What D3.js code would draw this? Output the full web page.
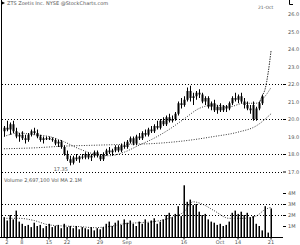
<!DOCTYPE html>
<html>
<head>
<meta charset="utf-8">
<script src="https://cdn.jsdelivr.net/npm/d3@7"></script>
<style>
body { margin: 0; background: #fff; }
svg { display: block; font-family: "DejaVu Sans", sans-serif; }
</style>
</head>
<body>
<div id="chart"></div>
<script>
// daily candles (price in $)
var opens = [19.3,19.5,19.4,19.7,19.3,19.0,19.1,18.9,18.8,19.1,
    19.3,19.2,19.0,18.8,18.9,18.9,18.85,18.8,18.6,18.7,
    18.4,18.0,17.7,17.5,17.8,17.7,17.85,17.8,18.0,17.8,
    17.9,18.1,17.9,17.7,18.0,18.2,18.1,18.2,18.4,18.2,
    18.5,18.4,18.7,18.9,18.6,19.0,18.9,19.2,19.1,19.4,
    19.3,19.6,19.5,19.9,19.7,20.1,19.9,20.0,20.3,20.9,
    20.8,21.1,21.6,21.2,21.3,21.5,21.4,21.0,21.2,20.7,
    20.9,20.5,20.7,20.5,20.7,20.6,20.9,21.2,21.1,21.3,
    21.0,20.8,20.6,20.8,20.0,20.6,20.9];
var highs = [19.6,19.9,19.8,19.9,19.5,19.2,19.3,19.1,19.2,19.4,
    19.5,19.4,19.1,19.0,19.0,19.0,18.95,18.9,18.8,18.8,
    18.5,18.2,17.9,17.9,18.0,17.9,18.0,18.1,18.1,18.0,
    18.2,18.2,18.0,18.1,18.3,18.4,18.3,18.5,18.5,18.6,
    18.7,18.8,19.0,19.0,19.1,19.2,19.3,19.4,19.5,19.6,
    19.7,19.9,20.0,20.1,20.2,20.3,20.2,20.4,21.0,21.2,
    21.3,21.8,21.9,21.5,21.6,21.7,21.5,21.3,21.3,21.0,
    21.1,20.8,20.9,20.8,20.8,21.0,21.3,21.5,21.4,21.5,
    21.2,21.0,20.8,21.0,20.7,21.0,21.4];
var lows = [19.0,19.3,19.1,19.2,18.9,18.7,18.8,18.6,18.7,19.0,
    19.1,18.9,18.7,18.6,18.8,18.8,18.7,18.5,18.4,18.3,
    17.9,17.6,17.35,17.4,17.6,17.5,17.7,17.7,17.7,17.6,
    17.8,17.8,17.6,17.6,17.9,18.0,17.9,18.1,18.1,18.1,
    18.3,18.3,18.6,18.5,18.5,18.8,18.8,19.0,19.0,19.2,
    19.2,19.4,19.4,19.6,19.6,19.8,19.8,19.9,20.2,20.6,
    20.7,21.0,21.0,20.8,21.1,21.2,20.9,20.8,20.6,20.5,
    20.4,20.3,20.4,20.4,20.4,20.5,20.8,21.0,20.9,20.9,
    20.6,20.5,20.3,19.9,19.9,20.5,20.8];
var closes = [19.5,19.4,19.7,19.3,19.0,19.1,18.9,18.8,19.1,19.3,
    19.2,19.0,18.8,18.9,18.9,18.85,18.8,18.6,18.7,18.4,
    18.0,17.7,17.5,17.8,17.7,17.85,17.8,18.0,17.8,17.9,
    18.1,17.9,17.7,18.0,18.2,18.1,18.2,18.4,18.2,18.5,
    18.4,18.7,18.9,18.6,19.0,18.9,19.2,19.1,19.4,19.3,
    19.6,19.5,19.9,19.7,20.1,19.9,20.0,20.3,20.9,20.8,
    21.1,21.6,21.2,21.3,21.5,21.4,21.0,21.2,20.7,20.9,
    20.5,20.7,20.5,20.7,20.6,20.9,21.2,21.1,21.3,21.0,
    20.8,20.6,20.5,20.0,20.6,20.9,21.3];

// volume in millions, one per day (last 3 days have no candle)
var volumes = [1.8,1.5,2.0,1.6,2.4,1.4,1.2,1.0,1.1,0.9,
    1.3,1.0,1.1,0.8,1.0,1.2,0.9,1.0,1.1,0.8,
    1.2,0.9,1.0,0.8,1.0,0.7,0.9,0.8,0.7,0.9,
    0.6,0.8,0.7,0.9,1.2,1.4,1.0,1.3,1.5,1.1,
    1.6,1.3,1.5,1.2,1.0,1.4,1.2,1.6,1.3,1.5,
    1.7,1.2,1.4,1.6,2.0,2.2,1.8,2.1,2.8,1.9,
    4.7,3.2,3.4,2.9,3.0,2.3,2.0,2.1,1.6,1.4,
    1.3,1.1,1.2,1.0,1.1,1.4,2.2,2.4,2.1,2.3,
    2.0,2.2,1.8,1.9,1.2,1.0,0.6,2.8,0.4,2.6];

// moving averages (day index, value)
var maShortIdx = [0,5,10,15,20,25,30,35,40,45,50,55,60,65,70,75,80,84,87,89];
var maShortVal = [19.0,19.2,19.1,19.0,18.7,18.3,18.0,17.9,18.1,18.5,18.9,19.4,20.0,20.6,20.8,20.7,20.9,20.9,21.3,21.8];
var maLongIdx = [0,10,20,30,40,50,60,70,78,84,89];
var maLongVal = [18.3,18.35,18.45,18.5,18.55,18.6,18.75,19.0,19.25,19.6,20.3];
var volMaIdx = [0,5,10,15,20,25,30,35,40,45,50,55,60,63,66,70,75,80,84,87,89];
var volMaVal = [1.7,1.7,1.5,1.1,1.0,0.95,0.85,0.95,1.2,1.3,1.4,1.7,2.3,3.2,3.0,2.4,1.7,1.7,1.9,2.5,2.7];

// last days price line
var spikeIdx = [85,86,87,88,89];
var spikeVal = [20.9,21.3,21.7,22.6,23.9];

var priceTicks = [17,18,19,20,21,22,23,24,25,26];
var gridPrices = [17,18,20,22];
var volTicks = [1,2,3,4];
var volGrid = [2,3];
var dateIdx = [1,6,15,21,32,41,60,72,78,89];
var dateLabels = ["2","8","15","22","29","Sep","16","Oct","14","21"];

var width = 300, height = 245;
var nDays = volumes.length;
var textColor = "#555";

var svg = d3.select("#chart").append("svg")
    .attr("width", width)
    .attr("height", height);

svg.append("rect").attr("width", width).attr("height", height).attr("fill", "#fff");

// scales
var x = d3.scaleBand()
    .domain(d3.range(nDays))
    .range([2, 273])
    .padding(0.3);
var xc = function (i) { return x(i) + x.bandwidth() / 2; };

var y = d3.scaleLinear()
    .domain([16.8, 26.8])
    .range([175, 0]);

var vy = d3.scaleLinear()
    .domain([0, 5])
    .range([237, 182]);

var axisX = 283;

// grid lines
svg.selectAll(".pgrid").data(gridPrices).enter().append("line")
    .attr("class", "pgrid")
    .attr("x1", 2).attr("x2", axisX)
    .attr("y1", function (d) { return Math.round(y(d)) + 0.5; })
    .attr("y2", function (d) { return Math.round(y(d)) + 0.5; })
    .attr("stroke", "#000").attr("stroke-width", 1)
    .attr("stroke-dasharray", "1,2");

svg.selectAll(".vgrid").data(volGrid).enter().append("line")
    .attr("class", "vgrid")
    .attr("x1", 2).attr("x2", axisX)
    .attr("y1", function (d) { return Math.round(vy(d)) + 0.5; })
    .attr("y2", function (d) { return Math.round(vy(d)) + 0.5; })
    .attr("stroke", "#000").attr("stroke-width", 1)
    .attr("stroke-dasharray", "1,2");

// left border
svg.append("line")
    .attr("x1", 1.5).attr("x2", 1.5).attr("y1", 0).attr("y2", 238)
    .attr("stroke", "#000");

// moving averages
var lineGen = function (idx, sc) {
    return d3.line()
        .curve(d3.curveMonotoneX)
        .x(function (d, i) { return xc(idx[i]); })
        .y(function (d) { return sc(d); });
};

svg.append("path")
    .attr("d", lineGen(maLongIdx, y)(maLongVal))
    .attr("fill", "none").attr("stroke", "#000").attr("stroke-width", 0.8)
    .attr("stroke-dasharray", "1,1.5");

svg.append("path")
    .attr("d", lineGen(maShortIdx, y)(maShortVal))
    .attr("fill", "none").attr("stroke", "#000").attr("stroke-width", 0.8)
    .attr("stroke-dasharray", "1,1.5");

svg.append("path")
    .attr("d", lineGen(spikeIdx, y)(spikeVal))
    .attr("fill", "none").attr("stroke", "#000").attr("stroke-width", 0.8)
    .attr("stroke-dasharray", "1.5,1");

// candles
var candles = svg.selectAll(".candle")
    .data(closes)
    .enter().append("g")
    .attr("class", "candle");

candles.append("line")
    .attr("x1", function (d, i) { return Math.round(xc(i)) + 0.5; })
    .attr("x2", function (d, i) { return Math.round(xc(i)) + 0.5; })
    .attr("y1", function (d, i) { return y(highs[i]); })
    .attr("y2", function (d, i) { return y(lows[i]); })
    .attr("stroke", "#000").attr("stroke-width", 1);

candles.append("rect")
    .attr("x", function (d, i) { return Math.round(xc(i)) - 0.5; })
    .attr("width", 2)
    .attr("y", function (d, i) { return y(Math.max(opens[i], d)); })
    .attr("height", function (d, i) { return Math.max(1, Math.abs(y(opens[i]) - y(d))); })
    .attr("fill", "#000");

// low annotation
svg.append("text")
    .attr("x", xc(22) - 2).attr("y", y(17.35) + 6)
    .attr("text-anchor", "end")
    .attr("font-size", 5).attr("fill", textColor)
    .text("17.35");

// volume bars
svg.selectAll(".vol").data(volumes).enter().append("rect")
    .attr("class", "vol")
    .attr("x", function (d, i) { return Math.round(xc(i)) - 0.5; })
    .attr("width", 1.5)
    .attr("y", function (d) { return vy(d); })
    .attr("height", function (d) { return vy(0) - vy(d); })
    .attr("fill", "#000");

svg.append("path")
    .attr("d", lineGen(volMaIdx, vy)(volMaVal))
    .attr("fill", "none").attr("stroke", "#000").attr("stroke-width", 0.8)
    .attr("stroke-dasharray", "1,1.5");

// bottom axis
var xAxis = svg.append("g")
    .attr("transform", "translate(0,237.5)")
    .call(d3.axisBottom(x).tickValues(dateIdx).tickSize(2).tickPadding(1)
        .tickFormat(function (d) { return dateLabels[dateIdx.indexOf(d)]; }));
xAxis.select(".domain").attr("d", "M0,0H" + axisX);
xAxis.selectAll("text").attr("font-size", 5).attr("font-family", "DejaVu Sans").attr("fill", textColor);

// right price axis
var yAxis = svg.append("g")
    .attr("transform", "translate(" + axisX + ",0)")
    .call(d3.axisRight(y).tickValues(priceTicks).tickSize(3).tickPadding(2)
        .tickFormat(d3.format(".1f")));
yAxis.select(".domain").remove();
yAxis.selectAll(".tick line").attr("x2", function (d) { return gridPrices.indexOf(d) >= 0 ? 3 : 0; });
yAxis.selectAll("text").attr("font-size", 5).attr("font-family", "DejaVu Sans").attr("fill", textColor);

var vAxis = svg.append("g")
    .attr("transform", "translate(" + axisX + ",0)")
    .call(d3.axisRight(vy).tickValues(volTicks).tickSize(3).tickPadding(2)
        .tickFormat(function (d) { return d + "M"; }));
vAxis.select(".domain").remove();
vAxis.selectAll("text").attr("font-size", 5).attr("font-family", "DejaVu Sans").attr("fill", textColor);

// titles
svg.append("path").attr("d", "M1,1L5,3L1,5Z").attr("fill", "#000");
svg.append("path").attr("d", "M289.5,0V4.5H293").attr("fill", "none").attr("stroke", "#000");
svg.append("text")
    .attr("x", 7).attr("y", 5)
    .attr("font-size", 5).attr("fill", textColor)
    .text("ZTS Zoetis Inc. NYSE  @StockCharts.com");
svg.append("text")
    .attr("x", 258).attr("y", 9)
    .attr("font-size", 4.5).attr("fill", textColor)
    .text("21-Oct");
svg.append("text")
    .attr("x", 4).attr("y", 182)
    .attr("font-size", 5).attr("fill", textColor)
    .text("Volume 2,697,100  Vol MA 2.1M");
</script>
</body>
</html>
